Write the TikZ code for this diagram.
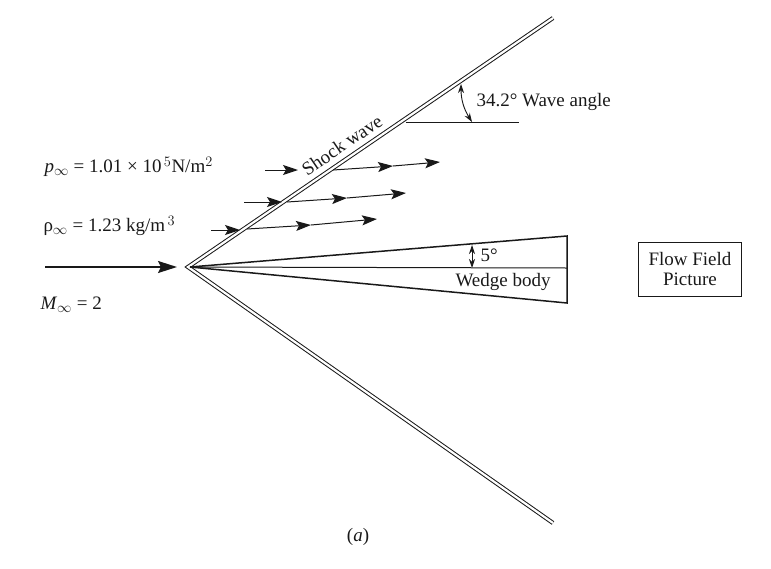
\documentclass[tikz,border=0pt]{standalone}
\usepackage{fontspec}
\setmainfont{Liberation Serif}
\usetikzlibrary{arrows.meta}

\begin{document}
\begin{tikzpicture}[x=1pt, y=-1pt, line width=1pt, color=black!90,
		flowarrow/.style={-{Stealth[length=15pt, width=10pt, inset=3pt]}},
		mainarrow/.style={-{Stealth[length=19pt, width=12pt, inset=3pt]}, line width=1.8pt},
		anglearrow/.style={{Stealth[length=9pt, width=6pt]}-{Stealth[length=9pt, width=6pt]}, line width=0.9pt},
		shockline/.style={double=white, double distance=2.2pt, line width=1pt, line join=miter},
		label/.style={font=\fontsize{19}{20}\selectfont, inner sep=0pt}]
	\useasboundingbox (0, 0) rectangle (771, 568);

	\coordinate (apex) at (188, 267);
	\coordinate (shocktop) at (553, 18);
	\coordinate (shockbottom) at (553, 523);
	\coordinate (tipmain) at (177, 267);
	\coordinate (startmain) at (45, 267);

	\coordinate (wedgetip) at (190, 267);
	\coordinate (wedgetop) at (567, 236);
	\coordinate (wedgebottom) at (567, 303);
	\coordinate (wedgeaxis) at (567, 268);

	\coordinate (waveroot) at (406, 122);
	\coordinate (waveend) at (519, 122);
	\coordinate (wavetop) at (461, 84);
	\coordinate (wavebottom) at (472, 122);

	\coordinate (in1) at (265, 170);
	\coordinate (in1tip) at (298, 170);
	\coordinate (out1) at (333, 170);
	\coordinate (mid1) at (393, 166);
	\coordinate (end1) at (440, 162);

	\coordinate (in2) at (244, 202);
	\coordinate (in2tip) at (282, 202);
	\coordinate (out2) at (287, 202);
	\coordinate (mid2) at (347, 198);
	\coordinate (end2) at (406, 193);

	\coordinate (in3) at (211, 230);
	\coordinate (in3tip) at (240, 230);
	\coordinate (out3) at (247, 229);
	\coordinate (mid3) at (311, 225);
	\coordinate (end3) at (377, 219);

	\coordinate (fivetop) at (472, 245);
	\coordinate (fivebottom) at (472, 268);

	\draw[shockline] (shocktop) -- (apex) -- (shockbottom);

	\draw[line width=1.5pt, line join=miter] (wedgetip) -- (wedgetop) -- (wedgebottom) -- cycle;
	\draw (wedgetip) -- (wedgeaxis);

	\draw[mainarrow] (startmain) -- (tipmain);

	\draw (waveroot) -- (waveend);
	\draw[anglearrow] (wavetop) to[bend right=16] (wavebottom);

	\draw[flowarrow] (in1) -- (in1tip);
	\draw[flowarrow] (out1) -- (mid1);
	\draw[flowarrow] (mid1) -- (end1);

	\draw[flowarrow] (in2) -- (in2tip);
	\draw[flowarrow] (out2) -- (mid2);
	\draw[flowarrow] (mid2) -- (end2);

	\draw[flowarrow] (in3) -- (in3tip);
	\draw[flowarrow] (out3) -- (mid3);
	\draw[flowarrow] (mid3) -- (end3);

	\draw[anglearrow] (fivetop) -- (fivebottom);

	\node[draw, minimum width=103pt, minimum height=54pt, align=center, label] (picturebox) at (690, 269) {Flow Field\\Picture};

	\node[label, anchor=west] (pressure) at (44, 167) {\textit{p}$_\infty$ = 1.01 × 10$^{\,5}$N/m$^2$};
	\node[label, anchor=west] (density) at (43, 226) {ρ$_\infty$ = 1.23 kg/m$^{\,3}$};
	\node[label, anchor=west] (mach) at (40, 305) {\textit{M}$_\infty$ = 2};
	\node[label, rotate=34.2] (shocklabel) at (342, 145) {Shock wave};
	\node[label, anchor=west] (wavelabel) at (476, 102) {34.2° Wave angle};
	\node[label, anchor=west] (fivelabel) at (480, 255) {5°};
	\node[label, anchor=west] (wedgelabel) at (455, 282) {Wedge body};
	\node[label] (caption) at (358, 537) {(\textit{a})};

\end{tikzpicture}
\end{document}
